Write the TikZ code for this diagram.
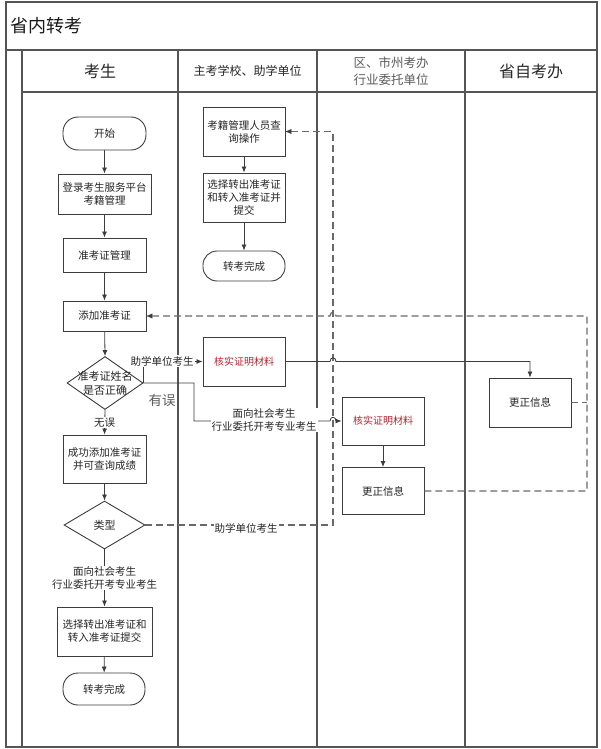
\documentclass[tikz,border=0pt]{standalone}
\usepackage{fontspec}
\newfontfamily\cjk{Noto Sans CJK SC}
\usetikzlibrary{arrows.meta,shapes.geometric}
\definecolor{framec}{RGB}{85,85,85}
\definecolor{boxc}{RGB}{60,60,60}
\definecolor{dashc}{RGB}{105,105,105}
\definecolor{redt}{RGB}{170,40,50}
\definecolor{hdrgray}{RGB}{90,90,90}
\tikzset{
  frame/.style={draw=framec,line width=1.2pt},
  box/.style={draw=boxc,line width=0.9pt,fill=white,rectangle,align=center,inner sep=1pt,
    font=\cjk\fontsize{10.5}{13}\selectfont,text=black!85},
  term/.style={box,rounded corners=15pt},
  term2/.style={box,rounded corners=14pt},
  dia/.style={draw=boxc,line width=0.9pt,fill=white,diamond,inner sep=0pt},
  dtext/.style={align=center,font=\cjk\fontsize{11}{14}\selectfont,text=black!85,inner sep=0pt},
  redbox/.style={box,text=redt,font=\cjk\fontsize{10}{13}\selectfont},
  conn/.style={draw=boxc,line width=0.8pt},
  arr/.style={conn,-{Latex[length=6pt,width=5pt]}},
  dconn/.style={draw=dashc,line width=1.2pt,dash pattern=on 7pt off 4pt},
  darr/.style={dconn,-{Latex[length=6pt,width=5pt,color=boxc,line width=0.1pt]}},
  lbl/.style={fill=white,inner sep=1pt,align=center,font=\cjk\fontsize{10.5}{12.5}\selectfont,text=black!85},
  hdr/.style={align=center,text=black!85}
}
\begin{document}
\begin{tikzpicture}[x=1pt,y=-1pt]
\useasboundingbox (0,0) rectangle (600,749);
% frame
\draw[frame] (6,2) rectangle (597,747);
\draw[frame] (6,50) -- (597,50);
\draw[frame] (22,92) -- (597,92);
\draw[frame] (22,50) -- (22,747);
\foreach \xx in {178,317,465} {\draw[frame] (\xx,50) -- (\xx,747);}
% title and headers
\node[anchor=west,font=\cjk\fontsize{18}{20}\selectfont,text=black!90,inner sep=0pt] (title) at (10,26) {省内转考};
\node[hdr,font=\cjk\fontsize{16}{18}\selectfont] (h1) at (100,71) {考生};
\node[hdr,font=\cjk\fontsize{12}{14}\selectfont] (h2) at (247.5,71) {主考学校、助学单位};
\node[hdr,font=\cjk\fontsize{12.5}{17}\selectfont,text=hdrgray] (h3) at (391,71) {区、市州考办\\行业委托单位};
\node[hdr,font=\cjk\fontsize{16}{18}\selectfont] (h4) at (531,71) {省自考办};
% lane 1
\node[term,minimum width=83pt,minimum height=33pt] (start) at (104.5,133.5) {开始};
\node[box,minimum width=93pt,minimum height=40pt] (login) at (104.5,194) {登录考生服务平台\\考籍管理};
\node[box,minimum width=83pt,minimum height=34pt] (mgmt) at (104.5,255) {准考证管理};
\node[box,minimum width=83pt,minimum height=30pt] (add) at (104.5,316) {添加准考证};
\node[dia,minimum width=76pt,minimum height=53pt,label={[dtext]center:准考证姓名\\是否正确}] (d1) at (105,383) {};
\node[box,minimum width=83pt,minimum height=48pt] (succ) at (104.5,459) {成功添加准考证\\并可查询成绩};
\node[dia,minimum width=81pt,minimum height=48pt,label={[dtext]center:类型}] (d2) at (104.5,525) {};
\node[box,minimum width=95pt,minimum height=49pt] (sel) at (104.5,631.5) {选择转出准考证和\\转入准考证提交};
\node[term,minimum width=82pt,minimum height=32pt] (end1) at (104,689) {转考完成};
% lane 2
\node[box,minimum width=82pt,minimum height=49pt] (kj) at (244,131.5) {考籍管理人员查\\询操作};
\node[box,minimum width=82pt,minimum height=49pt] (sel2) at (244,197.5) {选择转出准考证\\和转入准考证并\\提交};
\node[term2,minimum width=82pt,minimum height=30pt] (end2) at (244,266) {转考完成};
\node[redbox,minimum width=82pt,minimum height=49pt] (hz) at (244,361.5) {核实证明材料};
% lane 3
\node[redbox,minimum width=82pt,minimum height=48pt] (hs) at (383,421) {核实证明材料};
\node[box,minimum width=82pt,minimum height=47pt] (gz3) at (383,491) {更正信息};
% lane 4
\node[box,minimum width=82pt,minimum height=49pt] (gz4) at (530,402.5) {更正信息};
% solid flow lane 1
\draw[arr] (start) -- (login);
\draw[arr] (login) -- (mgmt);
\draw[arr] (mgmt) -- (add);
\draw[arr] (add) -- (d1.north);
\draw[arr] (d1.south) -- (succ.north);
\node[lbl] (wuwu) at (104.5,422.5) {无误};
\draw[arr] (succ) -- (d2.north);
\draw[arr] (d2.south) -- (sel.north);
\node[lbl] (lbsoc) at (104.5,578) {面向社会考生\\行业委托开考专业考生};
\draw[arr] (sel) -- (end1);
% lane 2
\draw[arr] (kj) -- (sel2);
\draw[arr] (sel2) -- (end2);
% lane 3
\draw[arr] (hs) -- (gz3);
% dashed connectors
\draw[darr] (gz3.east) -- (587,491) -- (587,316) -- (336,316) .. controls (336,311) and (330,311) .. (330,316) -- (add.east);
\draw[dconn] (gz4.east) -- (587,402.5);
\draw[darr] (d2.east) -- (333,525) -- (333,131.5) -- (kj.east);
\node[lbl] (lbzx2) at (246,528.5) {助学单位考生};
% branches from d1
\draw[arr] (d1.east) |- (hz.west);
\node[lbl] (lbzx) at (162,361) {助学单位考生};
\draw[arr] (d1.east) -- (194,383) -- (194,421) -- (330,421) .. controls (330,416) and (336,416) .. (336,421) -- (hs.west);
\node[lbl] (lbsoc2) at (264,420) {面向社会考生\\行业委托开考专业考生};
\node[font=\cjk\fontsize{13.5}{15}\selectfont,text=hdrgray,inner sep=0pt] (youwu) at (162,400) {有误};
\draw[arr] (hz.east) -- (330,361.5) .. controls (330,356.5) and (336,356.5) .. (336,361.5) -- (530,361.5) -- (gz4.north);
\end{tikzpicture}
\end{document}
